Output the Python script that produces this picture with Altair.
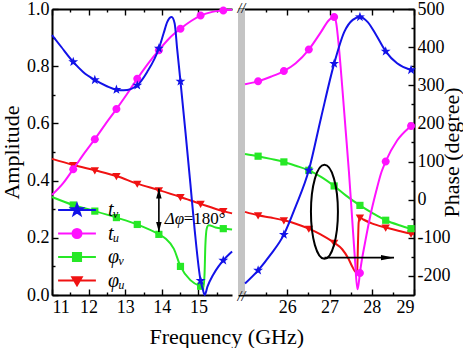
import math
import altair as alt
import pandas as pd

# ---------------- data ----------------
# left segment, 11-16 GHz
tv_l_f = [11.0, 11.25, 11.58, 11.85, 12.17, 12.5, 12.76, 12.96, 13.15, 13.33, 13.6, 13.92, 14.05, 14.15,
          14.27, 14.35, 14.42, 14.51, 14.65, 14.78, 14.9, 15.06, 15.12, 15.17, 15.25, 15.4, 15.55, 15.68, 15.92]
tv_l_v = [0.909, 0.868, 0.815, 0.78, 0.752, 0.73, 0.718, 0.716, 0.72, 0.733, 0.78, 0.862, 0.915, 0.955,
          0.972, 0.95, 0.86, 0.747, 0.565, 0.39, 0.225, 0.05, 0.02, 0.0, 0.03, 0.07, 0.1, 0.121, 0.152]

tu_l_f = [11.0, 11.3, 11.58, 11.85, 12.17, 12.45, 12.76, 13.05, 13.33, 13.62, 13.92, 14.2, 14.51, 14.8,
          15.06, 15.38, 15.68, 15.92]
tu_l_v = [0.35, 0.39, 0.44, 0.49, 0.545, 0.596, 0.65, 0.703, 0.756, 0.808, 0.856, 0.897, 0.931, 0.958,
          0.977, 0.99, 0.995, 0.997]

pv_l_f = [11.0, 11.58, 12.17, 12.76, 13.33, 13.92, 14.1, 14.33, 14.51, 14.78, 15.06, 15.14, 15.17, 15.19,
          15.23, 15.28, 15.47, 15.68, 15.92]
pv_l_v = [7, -14, -30, -47, -65, -91, -102, -129, -175, -211, -227, -229, -190, -120,
          -75, -67, -73, -76, -78]

pu_l_f = [11.0, 11.58, 12.17, 12.76, 13.33, 13.92, 14.51, 15.06, 15.68, 15.92]
pu_l_v = [107, 91, 77, 62, 42, 25, 7, -11, -30, -36]

# right segment, 25-29 GHz
tv_r_f = [25.0, 25.31, 25.6, 25.92, 26.2, 26.51, 26.8, 27.11, 27.35, 27.55, 27.72, 27.9, 28.1, 28.33,
          28.6, 28.93, 29.0]
tv_r_v = [0.04, 0.086, 0.14, 0.211, 0.31, 0.436, 0.62, 0.809, 0.92, 0.962, 0.972, 0.955, 0.91, 0.852,
          0.81, 0.787, 0.785]

tu_r_f = [25.0, 25.31, 25.61, 25.92, 26.2, 26.51, 26.8, 26.98, 27.11, 27.16, 27.22, 27.3, 27.38, 27.46,
          27.53, 27.6, 27.66, 27.69, 27.72, 27.85, 27.97, 28.1, 28.23, 28.33, 28.6, 28.93, 29.0]
tu_r_v = [0.737, 0.747, 0.763, 0.783, 0.81, 0.858, 0.92, 0.96, 0.972, 0.95, 0.87, 0.73, 0.58, 0.43,
          0.28, 0.13, 0.02, 0.04, 0.077, 0.19, 0.28, 0.36, 0.43, 0.467, 0.54, 0.591, 0.6]

pv_r_f = [25.0, 25.31, 25.61, 25.92, 26.2, 26.51, 26.8, 27.11, 27.4, 27.72, 28.0, 28.33, 28.65, 28.93, 29.0]
pv_r_v = [120, 114, 107, 99, 89, 77, 60, 36, 10, -15, -34, -54, -67, -76, -77]

pu_r_f = [25.0, 25.31, 25.61, 25.92, 26.2, 26.51, 26.8, 27.11, 27.3, 27.45, 27.55, 27.62, 27.655, 27.675,
          27.69, 27.72, 27.8, 28.0, 28.33, 28.65, 28.93, 29.0]
pu_r_v = [-32, -41, -47, -54, -63, -76, -92, -113, -130, -155, -178, -190, -186, -110,
          -60, -47, -52, -62, -73, -82, -89, -90]

# symbol positions (GHz)
mk_l = [11.58, 12.17, 12.76, 13.33, 13.92, 14.51, 15.06, 15.68]
mk_r = [25.31, 25.92, 26.51, 27.11, 27.72, 28.33, 28.93]

series_names = ["t\u1d65", "t\u1d64", "\u03c6\u1d65", "\u03c6\u1d64"]
colors = ["#1212e8", "#ff12ff", "#26e826", "#f01212"]

x_ticks_l = [11, 12, 13, 14, 15]
x_minor_l = [11.5, 12.5, 13.5, 14.5, 15.5]
x_ticks_r = [26, 27, 28, 29]
x_minor_r = [25.5, 26.5, 27.5, 28.5]
amp_ticks = [0.0, 0.2, 0.4, 0.6, 0.8, 1.0]
amp_minor = [0.1, 0.3, 0.5, 0.7, 0.9]
ph_ticks = [-200, -100, 0, 100, 200, 300, 400, 500]
ph_minor = [-150, -50, 50, 150, 250, 350, 450]

# annotations
dphi_f, dphi_top, dphi_bot = 13.92, 29, -85
dphi_text_f, dphi_text_p = 14.08, -50
ell_f, ell_p = 26.88, -32
arr_f0, arr_f1, arr_p = 26.88, 28.527, -152
gap = {"x0": [24.834], "x1": [25.0], "y0": [-250], "y1": [500]}
brk_f = 24.917

# ---------------- styling ----------------
SERIF = "Liberation Serif, Times New Roman, Times, DejaVu Serif, serif"
W_L, W_R, H = 180, 176, 286
X_L = alt.Scale(domain=[11, 15.918], nice=False, zero=False)
X_R = alt.Scale(domain=[24.834, 29], nice=False, zero=False)
Y_A = alt.Scale(domain=[0, 1], nice=False, zero=False)
Y_P = alt.Scale(domain=[-250, 500], nice=False, zero=False)


def star_path(ro=1.3, ri=0.52):
    pts = []
    for i in range(10):
        a = -math.pi / 2 + i * math.pi / 5
        r = ro if i % 2 == 0 else ri
        pts.append(f"{r * math.cos(a):.3f},{r * math.sin(a):.3f}")
    return "M" + "L".join(pts) + "Z"


K = 0.5523
CIRCLE = f"M1,0C1,{K},{K},1,0,1C{-K},1,-1,{K},-1,0C-1,{-K},{-K},-1,0,-1C{K},-1,1,{-K},1,0Z"
SQUARE = "M-0.9,-0.9H0.9V0.9H-0.9Z"
TRI_DOWN = "M-1.05,-0.75H1.05L0,1.05Z"
STAR = star_path()
marker_paths = [STAR, CIRCLE, SQUARE, TRI_DOWN]
legend_paths = ["M-4.2,0H4.2" + p for p in marker_paths]

a_e = 0.287
ELLIPSE = (f"M0,-1C{K*a_e:.4f},-1,{a_e},{-K},{a_e},0C{a_e},{K},{K*a_e:.4f},1,0,1"
           f"C{-K*a_e:.4f},1,{-a_e},{K},{-a_e},0C{-a_e},{-K},{-K*a_e:.4f},-1,0,-1Z")


def frame(f, v):
    return pd.DataFrame({"f": f, "v": v})


def curve_layers(f, v, marks, xs, ys, color, shape):
    df = frame(f, v)
    df["m"] = df["f"].round(3).isin([round(m, 3) for m in marks])
    line = alt.Chart(df).mark_line(color=color, strokeWidth=2, interpolate="monotone").encode(
        x=alt.X("f:Q", scale=xs, axis=None), y=alt.Y("v:Q", scale=ys, axis=None))
    pts = alt.Chart(df[df["m"]]).mark_point(filled=True, opacity=1, size=64, color=color, shape=shape).encode(
        x=alt.X("f:Q", scale=xs, axis=None), y=alt.Y("v:Q", scale=ys, axis=None))
    return [line, pts]


def xaxis_layer(xs, x0, axis):
    d = pd.DataFrame({"f": [x0]})
    return alt.Chart(d).mark_point(opacity=0).encode(x=alt.X("f:Q", scale=xs, axis=axis))


def yaxis_layer(xs, x0, ys, axis):
    d = pd.DataFrame({"f": [x0], "v": [0.0]})
    return alt.Chart(d).mark_point(opacity=0).encode(
        x=alt.X("f:Q", scale=xs, axis=None), y=alt.Y("v:Q", scale=ys, axis=axis))


def tick_axis(orient, values, size, offset, domain=False):
    return alt.Axis(orient=orient, values=values, labels=False, ticks=True, tickSize=size, tickWidth=1.4,
                    tickColor="black", domain=domain, domainColor="black", domainWidth=2,
                    offset=offset, grid=False, title=None)


def label_axis(orient, values, **kw):
    base = dict(orient=orient, values=values, ticks=False, domain=True, domainColor="black", domainWidth=2,
                labelFont=SERIF, labelFontSize=18, labelColor="black", grid=False,
                titleFont=SERIF, titleFontSize=22, titleFontWeight="normal", titleColor="black")
    base.update(kw)
    return alt.Axis(**base)


# ---------------- left panel ----------------
left_layers = []
left_layers += curve_layers(pu_l_f, pu_l_v, mk_l, X_L, Y_P, colors[3], TRI_DOWN)
left_layers += curve_layers(pv_l_f, pv_l_v, mk_l, X_L, Y_P, colors[2], SQUARE)
left_layers += curve_layers(tu_l_f, tu_l_v, mk_l, X_L, Y_A, colors[1], CIRCLE)
left_layers += curve_layers(tv_l_f, tv_l_v, mk_l, X_L, Y_A, colors[0], STAR)

arrow_df = pd.DataFrame({"f": [dphi_f], "top": [dphi_top], "bot": [dphi_bot]})
left_layers.append(alt.Chart(arrow_df).mark_rule(color="black", strokeWidth=1.6).encode(
    x=alt.X("f:Q", scale=X_L, axis=None), y=alt.Y("top:Q", scale=Y_P, axis=None), y2="bot:Q"))
left_layers.append(alt.Chart(arrow_df).mark_point(shape="M0,-1L0.55,1L-0.55,1Z", size=100, filled=True,
                                                  color="black", opacity=1, yOffset=5).encode(
    x=alt.X("f:Q", scale=X_L, axis=None), y=alt.Y("top:Q", scale=Y_P, axis=None)))
left_layers.append(alt.Chart(arrow_df).mark_point(shape="M0,1L0.55,-1L-0.55,-1Z", size=100, filled=True,
                                                  color="black", opacity=1, yOffset=-5).encode(
    x=alt.X("f:Q", scale=X_L, axis=None), y=alt.Y("bot:Q", scale=Y_P, axis=None)))
txt_df = pd.DataFrame({"f": [dphi_text_f], "p": [dphi_text_p], "a": ["\u0394\u03c6"], "b": ["=180\u00b0"]})
left_layers.append(alt.Chart(txt_df).mark_text(font=SERIF, fontSize=17, fontStyle="italic", align="left",
                                               baseline="middle", color="black").encode(
    x=alt.X("f:Q", scale=X_L, axis=None), y=alt.Y("p:Q", scale=Y_P, axis=None), text="a:N"))
left_layers.append(alt.Chart(txt_df).mark_text(font=SERIF, fontSize=17, align="left", dx=19,
                                               baseline="middle", color="black").encode(
    x=alt.X("f:Q", scale=X_L, axis=None), y=alt.Y("p:Q", scale=Y_P, axis=None), text="b:N"))

# legend (drawn by the legend itself; layer marks invisible)
leg = alt.Legend(title=None, orient="none", legendX=15, legendY=191, labelFont=SERIF,
                 labelFontSize=20, labelFontStyle="italic", labelColor="black", symbolSize=81,
                 symbolStrokeWidth=2, symbolOpacity=1, labelOffset=21, rowPadding=3.5, padding=0,
                 labelLimit=100)
leg_df = pd.DataFrame({"name": series_names, "f": [11.5] * 4, "v": [0.5] * 4})
left_layers.append(alt.Chart(leg_df).mark_point(filled=True, opacity=0, size=81).encode(
    x=alt.X("f:Q", scale=X_L, axis=None), y=alt.Y("v:Q", scale=Y_A, axis=None),
    color=alt.Color("name:N", scale=alt.Scale(domain=series_names, range=colors), legend=leg, sort=series_names),
    stroke=alt.Stroke("name:N", scale=alt.Scale(domain=series_names, range=colors), legend=leg, sort=series_names),
    shape=alt.Shape("name:N", scale=alt.Scale(domain=series_names, range=legend_paths), legend=leg,
                    sort=series_names)))

# axes of left panel
left_layers.append(xaxis_layer(X_L, 11.0, label_axis("bottom", x_ticks_l, labelPadding=3, title=None)))
left_layers.append(xaxis_layer(X_L, 11.0, tick_axis("top", x_ticks_l, 6, -H)))
left_layers.append(xaxis_layer(X_L, 11.0, tick_axis("top", x_minor_l, 3, -H)))
left_layers.append(xaxis_layer(X_L, 11.0, tick_axis("bottom", x_ticks_l, 6, -H, domain=True)))
left_layers.append(xaxis_layer(X_L, 11.0, tick_axis("bottom", x_minor_l, 3, -H)))
left_layers.append(yaxis_layer(X_L, 11.0, Y_A, label_axis("left", amp_ticks, format=".1f", labelPadding=3,
                                                          title="Amplitude", titlePadding=3)))
left_layers.append(yaxis_layer(X_L, 11.0, Y_A, tick_axis("right", amp_ticks, 6, -W_L)))
left_layers.append(yaxis_layer(X_L, 11.0, Y_A, tick_axis("right", amp_minor, 3, -W_L)))

left = alt.layer(*left_layers).resolve_scale(y="independent").resolve_axis(
    x="independent", y="independent").properties(width=W_L, height=H)

# ---------------- right panel ----------------
right_layers = []
right_layers.append(alt.Chart(pd.DataFrame(gap)).mark_rect(color="#c4c4c4").encode(
    x=alt.X("x0:Q", scale=X_R, axis=None), x2="x1:Q", y=alt.Y("y0:Q", scale=Y_P, axis=None), y2="y1:Q"))
right_layers += curve_layers(pu_r_f, pu_r_v, mk_r, X_R, Y_P, colors[3], TRI_DOWN)
right_layers += curve_layers(pv_r_f, pv_r_v, mk_r, X_R, Y_P, colors[2], SQUARE)
right_layers += curve_layers(tu_r_f, tu_r_v, mk_r, X_R, Y_A, colors[1], CIRCLE)
right_layers += curve_layers(tv_r_f, tv_r_v, mk_r, X_R, Y_A, colors[0], STAR)

ell_df = pd.DataFrame({"f": [ell_f], "p": [ell_p]})
right_layers.append(alt.Chart(ell_df).mark_point(shape=ELLIPSE, size=8836, filled=False, color="black",
                                                 strokeWidth=2, opacity=1).encode(
    x=alt.X("f:Q", scale=X_R, axis=None), y=alt.Y("p:Q", scale=Y_P, axis=None)))
arr_df = pd.DataFrame({"f0": [arr_f0], "f1": [arr_f1], "p": [arr_p]})
right_layers.append(alt.Chart(arr_df).mark_rule(color="black", strokeWidth=1.8).encode(
    x=alt.X("f0:Q", scale=X_R, axis=None), x2="f1:Q", y=alt.Y("p:Q", scale=Y_P, axis=None)))
right_layers.append(alt.Chart(arr_df).mark_point(shape="M1,0L-1,-0.42L-1,0.42Z", size=169, filled=True,
                                                 color="black", opacity=1, xOffset=-6.5).encode(
    x=alt.X("f1:Q", scale=X_R, axis=None), y=alt.Y("p:Q", scale=Y_P, axis=None)))
brk_top = pd.DataFrame({"f": [brk_f], "p": [500], "t": ["//"]})
brk_bot = pd.DataFrame({"f": [brk_f], "p": [-250], "t": ["//"]})
for bdf, ddy in ((brk_top, 0), (brk_bot, 2)):
    right_layers.append(alt.Chart(bdf).mark_text(font=SERIF, fontSize=14, fontStyle="italic", align="center",
                                                 baseline="middle", color="black", dy=ddy).encode(
        x=alt.X("f:Q", scale=X_R, axis=None), y=alt.Y("p:Q", scale=Y_P, axis=None), text="t:N"))

right_layers.append(xaxis_layer(X_R, 25.0, label_axis("bottom", x_ticks_r, labelPadding=3, title=None)))
right_layers.append(xaxis_layer(X_R, 25.0, tick_axis("top", x_ticks_r, 6, -H)))
right_layers.append(xaxis_layer(X_R, 25.0, tick_axis("top", x_minor_r, 3, -H)))
right_layers.append(xaxis_layer(X_R, 25.0, tick_axis("bottom", x_ticks_r, 6, -H, domain=True)))
right_layers.append(xaxis_layer(X_R, 25.0, tick_axis("bottom", x_minor_r, 3, -H)))
right_layers.append(yaxis_layer(X_R, 25.0, Y_P, label_axis("right", ph_ticks, labelExpr="'' + datum.value",
                                                           labelPadding=3, title="Phase (degree)",
                                                           titleAngle=270, titlePadding=14)))
right_layers.append(yaxis_layer(X_R, 25.0, Y_P, tick_axis("left", ph_ticks, 6, -W_R)))
right_layers.append(yaxis_layer(X_R, 25.0, Y_P, tick_axis("left", ph_minor, 3, -W_R)))

right = alt.layer(*right_layers).resolve_scale(y="independent").resolve_axis(
    x="independent", y="independent").properties(width=W_R, height=H)

chart = alt.hconcat(left, right, spacing=0).properties(
    title=alt.TitleParams("Frequency (GHz)", orient="bottom", anchor="middle", frame="bounds",
                          font=SERIF, fontSize=22, fontWeight="normal", color="black", dx=-5, offset=11),
    padding={"left": 0, "top": 0, "right": 0, "bottom": 0},
    background="white",
).configure_view(stroke=None).configure_title(font=SERIF, fontWeight="normal").configure_axis(
    labelFont=SERIF, titleFont=SERIF).configure_legend(labelFont=SERIF).configure_text(font=SERIF)

chart.save("out.html", embed_options={"renderer": "svg", "actions": False})
